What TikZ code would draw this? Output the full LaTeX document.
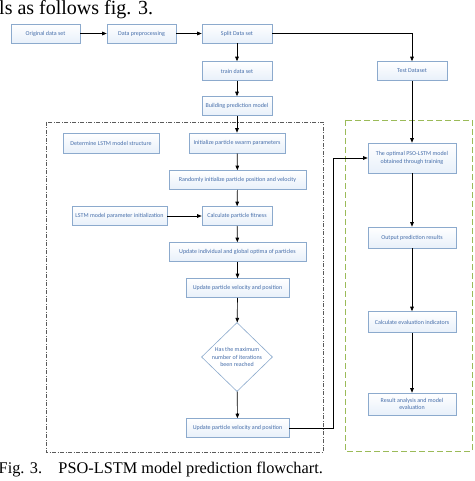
\documentclass[tikz,border=0pt]{standalone}
\usepackage{fontspec}
\setmainfont{Liberation Serif}
\newfontfamily\boxfont{Carlito}
\usetikzlibrary{
  shapes.geometric,
  arrows.meta,
  positioning
}
\definecolor{boxline}{RGB}{140,170,205}
\definecolor{boxtext}{RGB}{70,110,170}
\definecolor{boxfill}{RGB}{232,240,250}
\definecolor{trainframe}{RGB}{90,90,90}
\definecolor{testframe}{RGB}{155,187,89}

\begin{document}
\begin{tikzpicture}[
    x=1pt, y=-1pt,
    font=\boxfont\fontsize{6}{7.2}\selectfont,
    proc/.style={
      rectangle, draw=boxline, line width=0.6pt,
      top color=white, bottom color=boxfill,
      text=boxtext, inner sep=1pt,
      minimum height=19pt, text centered, align=center
    },
    decide/.style={
      diamond, draw=boxline, line width=0.6pt, fill=white,
      text=boxtext, inner sep=0pt, align=center,
      minimum width=71pt, minimum height=69pt
    },
    arr/.style={-{Triangle[length=4.5pt,width=3.6pt]}, line width=0.7pt},
  ]
    \useasboundingbox (0,0) rectangle (474,481);
    \clip (0,0) rectangle (474,481);

    % frames
    \draw[trainframe, line width=0.7pt, dash pattern=on 4pt off 1.5pt on 1pt off 1.5pt]
      (46,122) rectangle (323,452);
    \draw[testframe, line width=0.8pt, dash pattern=on 6pt off 3pt]
      (345,120) rectangle (472,451);

    % preprocessing chain
    \node[proc, minimum width=69pt]  (orig)   at (45.5,33.5) {Original data set};
    \node[proc, minimum width=69pt]  (prep)   at (141.5,33.5) {Data preprocessing};
    \node[proc, minimum width=70pt]  (split)  at (237,33.5)  {Split Data set};
    \node[proc, minimum width=70pt]  (train)  at (237,71)    {train data set};
    \node[proc, minimum width=70pt]  (test)   at (412,71)    {Test Dataset};
    \node[proc, minimum width=70pt]  (build)  at (237,106)   {Building prediction model};

    % PSO part
    \node[proc, minimum width=96pt, minimum height=20pt]  (struct) at (111,143)   {Determine LSTM model structure};
    \node[proc, minimum width=96pt, minimum height=20pt]  (swarm)  at (237,143)   {Initialize particle swarm parameters};
    \node[proc, minimum width=137pt] (rand)   at (237.5,180) {Randomly initialize particle position and velocity};
    \node[proc, minimum width=95pt]  (param)  at (119.5,216) {LSTM model parameter initialization};
    \node[proc, minimum width=70pt]  (fit)    at (237,216)   {Calculate particle fitness};
    \node[proc, minimum width=137pt] (optima) at (237.5,252) {Update individual and global optima of particles};
    \node[proc, minimum width=103pt] (upd)    at (237.5,288) {Update particle velocity and position};
    \node[decide]                    (iter)   at (237,357)   {Has the maximum\\number of iterations\\been reached};
    \node[proc, minimum width=103pt] (upd2)   at (237.5,428) {Update particle velocity and position};

    % test part
    \node[proc, minimum width=88pt, minimum height=30pt] (best) at (412,158) {The optimal PSO-LSTM model\\obtained through training};
    \node[proc, minimum width=88pt, minimum height=21pt] (out)  at (412,237.5) {Output prediction results};
    \node[proc, minimum width=88pt, minimum height=21pt] (eval) at (412,322) {Calculate evaluation indicators};
    \node[proc, minimum width=88pt, minimum height=22pt] (res)  at (412,404) {Result analysis and model\\evaluation};

    \coordinate (turn) at (333,428);

    \draw[arr] (orig) -- (prep);
    \draw[arr] (prep) -- (split);
    \draw[arr] (split) -- (train);
    \draw[arr] (split.east) -| (test.north);
    \draw[arr] (train) -- (build);
    \draw[arr] (build) -- (swarm);
    \draw[arr] (swarm) -- (rand);
    \draw[arr] (rand) -- (fit);
    \draw[arr] (param) -- (fit);
    \draw[arr] (fit) -- (optima);
    \draw[arr] (optima) -- (upd);
    \draw[arr] (upd) -- (iter);
    \draw[arr] (iter) -- (upd2);
    \draw[arr] (upd2.east) -- (turn) |- (best.west);
    \draw[arr] (test) -- (best);
    \draw[arr] (best) -- (out);
    \draw[arr] (out) -- (eval);
    \draw[arr] (eval) -- (res);

    % surrounding text
    \node[anchor=base west, inner sep=0pt, font=\fontsize{20}{22}\selectfont] (above) at (-1,14.5) {ls as follows fig. 3.};
    \node[anchor=base west, inner sep=0pt, font=\fontsize{16.3}{18}\selectfont] (caption) at (-1.5,473) {Fig. 3.\quad PSO-LSTM model prediction flowchart.};
  \end{tikzpicture}
\end{document}
